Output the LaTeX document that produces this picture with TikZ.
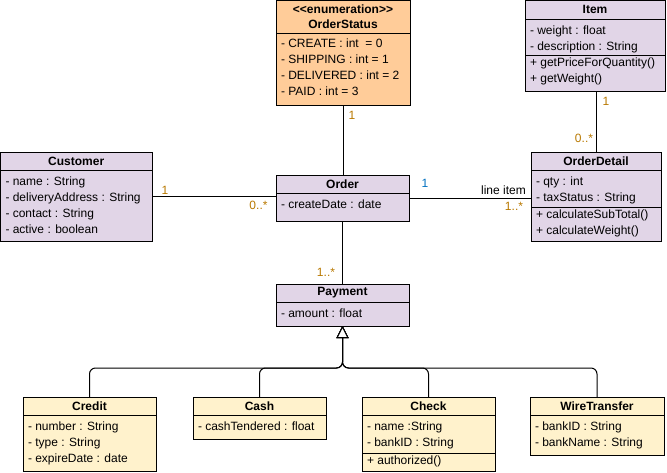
\documentclass[tikz,border=0pt]{standalone}
\usepackage{fontspec}
\setmainfont{Liberation Sans}[Ligatures=TeXOff]
\usepackage{xcolor}
\usetikzlibrary{positioning,fit,arrows.meta}

\definecolor{umlpurple}{HTML}{E1D5E7}
\definecolor{umlorange}{HTML}{FFCC99}
\definecolor{umlyellow}{HTML}{FFF2CC}
\definecolor{multorange}{HTML}{B87800}
\definecolor{multblue}{HTML}{0070C0}

% rows of a class compartment: [first baseline]{width}{height}{lines}
\newcommand{\umlrows}[4][15pt]{\parbox[t][#3][t]{#2}{\rule{0pt}{#1}#4}}

\begin{document}
\begin{tikzpicture}[x=1pt, y=-1pt, line width=1pt, font=\fontsize{12}{16}\selectfont,
  head/.style={draw, fill=#1, font=\bfseries\fontsize{12}{15}\selectfont, anchor=north west,
    inner sep=0pt, outer sep=0pt, minimum height=18pt, align=center},
  body/.style={draw, fill=#1, anchor=north, inner xsep=5pt, inner ysep=0pt, outer sep=0pt},
  box/.style={inner sep=0pt, outer sep=0pt},
  mult/.style={text=multorange, inner sep=0pt},
  gen/.style={-{Triangle[open, fill=white, length=12pt, width=12pt]}, rounded corners=6pt}]

\useasboundingbox (0,0) rectangle (667,472);

% enumeration
\node[head=umlorange, minimum width=134pt, minimum height=32.5pt] (orderstatus) at (276,0.5) {<<enumeration>>\\OrderStatus};
\node[body=umlorange, below=0pt of orderstatus] (orderstatusattr) {\umlrows[14pt]{124pt}{72pt}{- CREATE : int~ = 0\\- SHIPPING : int = 1\\- DELIVERED : int = 2\\- PAID : int = 3}};

% classes
\node[head=umlpurple, minimum width=140pt, minimum height=18.5pt] (item) at (525,0.5) {Item};
\node[body=umlpurple, below=0pt of item] (itemattr) {\umlrows{130pt}{36pt}{- weight : float\\- description : String}};
\node[body=umlpurple, below=0pt of itemattr] (itemops) {\umlrows[11pt]{130pt}{36pt}{+ getPriceForQuantity()\\+ getWeight()}};

\node[head=umlpurple, minimum width=151.5pt] (customer) at (0.5,152) {Customer};
\node[body=umlpurple, below=0pt of customer] (customerattr) {\umlrows{141.5pt}{71pt}{- name : String\\- deliveryAddress : String\\- contact : String\\- active : boolean}};
\node[box, fit=(customer)(customerattr)] (customerbox) {};

\node[head=umlpurple, minimum width=133pt] (order) at (276,175) {Order};
\node[body=umlpurple, below=0pt of order] (orderattr) {\umlrows{123pt}{28pt}{- createDate : date}};
\node[box, fit=(order)(orderattr)] (orderbox) {};

\node[head=umlpurple, minimum width=130pt] (orderdetail) at (531,152) {OrderDetail};
\node[body=umlpurple, below=0pt of orderdetail] (orderdetailattr) {\umlrows{120pt}{37pt}{- qty : int\\- taxStatus : String}};
\node[body=umlpurple, below=0pt of orderdetailattr] (orderdetailops) {\umlrows[11pt]{120pt}{34pt}{+ calculateSubTotal()\\+ calculateWeight()}};
\node[box, fit=(orderdetail)(orderdetailops)] (orderdetailbox) {};

\node[head=umlpurple, minimum width=133pt] (payment) at (276,284) {Payment};
\node[body=umlpurple, below=0pt of payment] (paymentattr) {\umlrows{123pt}{24pt}{- amount : float}};

% payment kinds
\node[head=umlyellow, minimum width=133pt] (credit) at (23,397) {Credit};
\node[body=umlyellow, below=0pt of credit] (creditattr) {\umlrows{123pt}{56pt}{- number : String\\- type : String\\- expireDate : date}};

\node[head=umlyellow, minimum width=133pt] (cash) at (193,397) {Cash};
\node[body=umlyellow, below=0pt of cash] (cashattr) {\umlrows{123pt}{24pt}{- cashTendered : float}};

\node[head=umlyellow, minimum width=133pt] (check) at (362,397) {Check};
\node[body=umlyellow, below=0pt of check] (checkattr) {\umlrows{123pt}{38pt}{- name :String\\- bankID : String}};
\node[body=umlyellow, below=0pt of checkattr] (checkops) {\umlrows[11pt]{123pt}{18pt}{+ authorized()}};

\node[head=umlyellow, minimum width=134pt] (wiretransfer) at (530,397) {WireTransfer};
\node[body=umlyellow, below=0pt of wiretransfer] (wiretransferattr) {\umlrows{124pt}{40pt}{- bankID : String\\- bankName : String}};

% associations
\draw (orderstatusattr.south) -- (orderstatusattr.south |- orderbox.north)
  node[mult] at ([shift={(9,10.5)}]orderstatusattr.south) {1};

\draw (customerbox.east) -- (customerbox.east -| orderbox.west)
  node[mult] at ([shift={(13,-6)}]customerbox.east) {1}
  node[mult] at ([shift={(-17.5,7.5)}]orderbox.west) {0..*};

\draw (orderbox.east) -- (orderbox.east -| orderdetailbox.west)
  node[mult, text=multblue] at ([shift={(16,-15)}]orderbox.east) {1}
  node[inner sep=0pt] at ([shift={(-27.5,-6)}]orderdetailbox.west) {line item}
  node[mult] at ([shift={(-17,10)}]orderdetailbox.west) {1..*};

\draw (orderdetail.north |- itemops.south) -- (orderdetail.north)
  node[mult] at ([shift={(10,-51)}]orderdetail.north) {1}
  node[mult] at ([shift={(-12,-13.5)}]orderdetail.north) {0..*};

\draw (orderbox.south) -- (payment.north)
  node[mult] at ([shift={(-16.5,-11.5)}]payment.north) {1..*};

% generalization
\coordinate (fork) at ([yshift=-42pt]paymentattr.south);
\foreach \kind in {credit,cash,check,wiretransfer}
  \draw[gen] (\kind.north) |- (fork) -- (paymentattr.south);

\end{tikzpicture}
\end{document}
